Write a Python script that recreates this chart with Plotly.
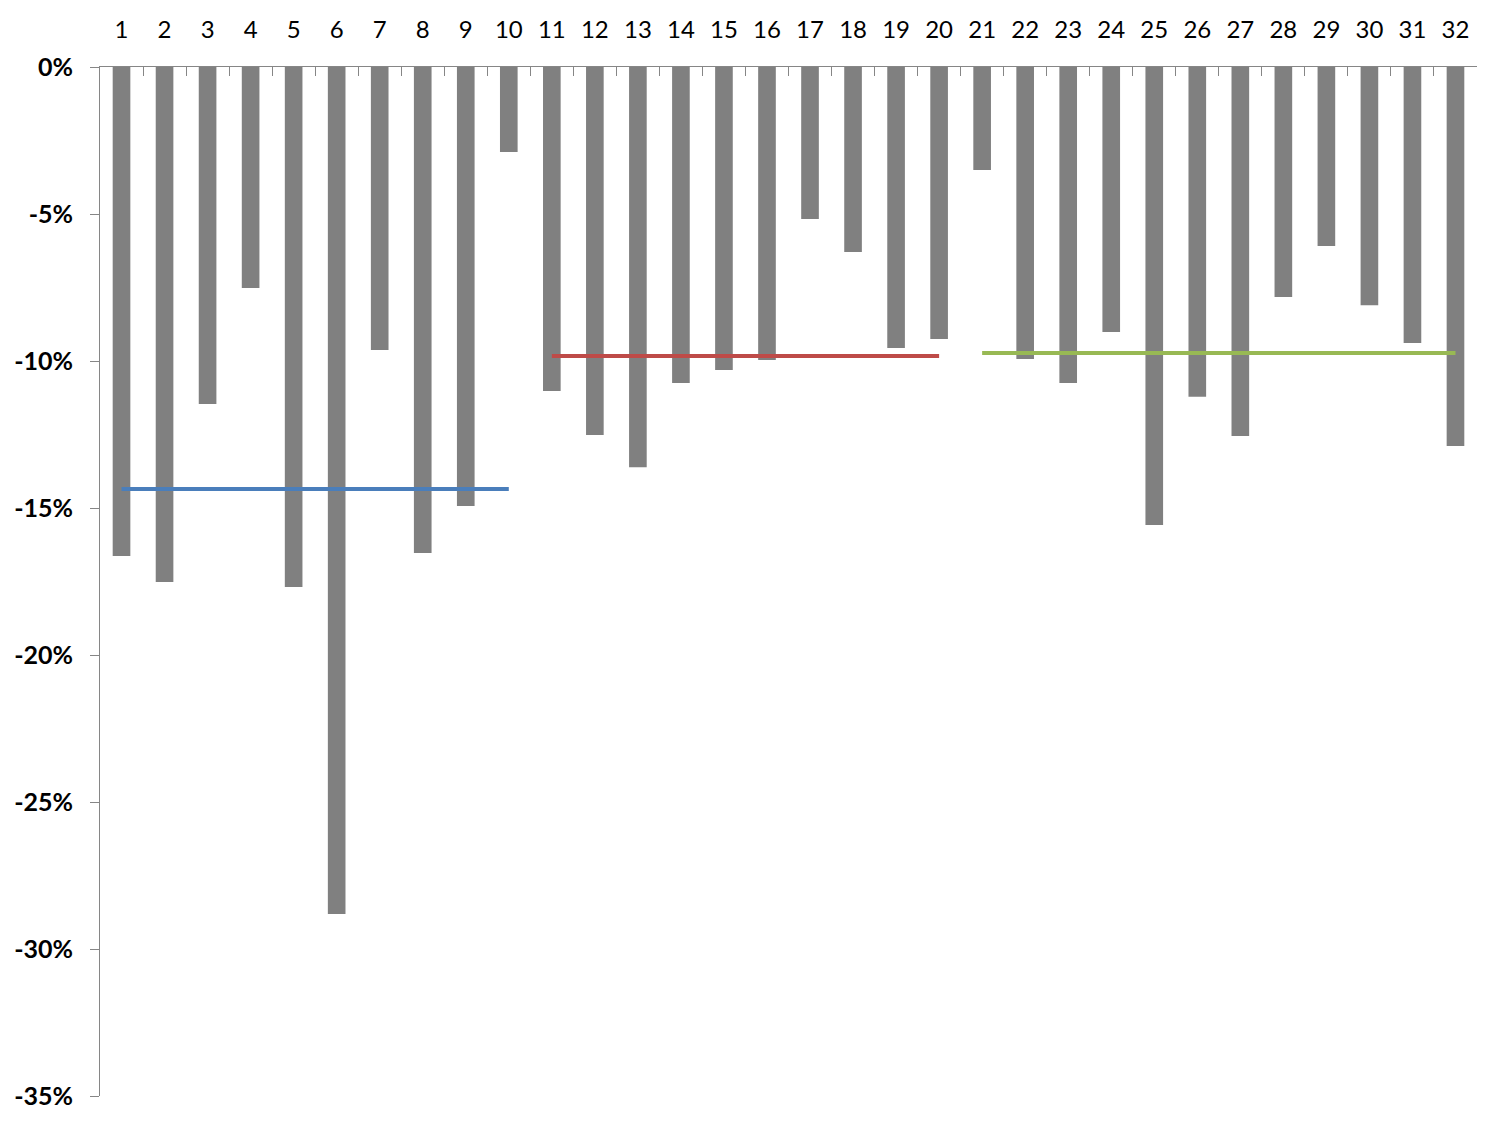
import plotly.graph_objects as go

# categorias (eje x arriba) y caida de cada una en %
categorias = ['1', '2', '3', '4', '5', '6', '7', '8', '9', '10',
              '11', '12', '13', '14', '15', '16', '17', '18', '19', '20',
              '21', '22', '23', '24', '25', '26', '27', '28', '29', '30',
              '31', '32']
caidas = [-16.63, -17.52, -11.46, -7.52, -17.69, -28.81, -9.63, -16.53, -14.93, -2.89,
          -11.02, -12.52, -13.61, -10.75, -10.31, -9.97, -5.17, -6.29, -9.56, -9.25,
          -3.50, -9.93, -10.75, -9.01, -15.58, -11.22, -12.55, -7.82, -6.09, -8.10,
          -9.39, -12.89]

# promedios de cada grupo (primera y ultima categoria del tramo)
tramos = [('1', '10'), ('11', '20'), ('21', '32')]
promedios = [-14.35, -9.83, -9.73]
colores = ['#4A7EBB', '#BE4B48', '#98B954']

ticks_y = [0, -5, -10, -15, -20, -25, -30, -35]
ticks_y_txt = ['0%', '-5%', '-10%', '-15%', '-20%', '-25%', '-30%', '-35%']

fig = go.Figure()
fig.add_trace(go.Bar(x=categorias, y=caidas, marker=dict(color='#808080', line_width=0),
                     showlegend=False))

for (ini, fin), prom, col in zip(tramos, promedios, colores):
    fig.add_trace(go.Scatter(x=[ini, fin], y=[prom, prom], mode='lines',
                             line=dict(color=col, width=4), showlegend=False))

# la pagina deja 8px de margen (body), se descuenta del tamaño
fig.update_layout(
    width=1492, height=1117,
    margin=dict(l=92, r=23, t=59, b=29),
    paper_bgcolor='white', plot_bgcolor='white',
    bargap=0.59,
    hovermode=False,
    font=dict(family='Lato', color='black'),
)
fig.update_xaxes(
    type='category', side='top', showgrid=False, automargin=False,
    showline=True, linecolor='#868686', linewidth=1,
    ticks='inside', tickson='boundaries', ticklen=9, tickcolor='#868686',
    tickfont=dict(size=24, family='Lato'), ticklabelstandoff=18,
)
fig.update_yaxes(
    range=[-35, 0], showgrid=False, zeroline=False, automargin=False,
    showline=True, linecolor='#868686', linewidth=1,
    ticks='outside', ticklen=9, tickcolor='#868686',
    tickvals=ticks_y, ticktext=ticks_y_txt,
    tickfont=dict(size=25, family='Lato', weight='bold'), ticklabelstandoff=12,
)

fig.write_html("out.html")
